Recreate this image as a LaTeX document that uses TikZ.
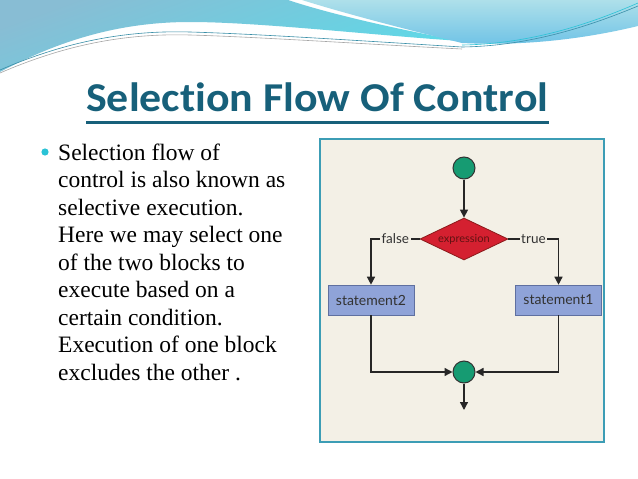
\documentclass[tikz,border=0pt]{standalone}
\usepackage{fontspec}
\setmainfont{Liberation Serif}
\newfontfamily\titlefont[FakeStretch=1.07,Ligatures=NoCommon]{Carlito}
\newfontfamily\diagfont{Lato}
\usetikzlibrary{arrows.meta,shapes.geometric}
\definecolor{titleteal}{HTML}{17607A}
\definecolor{bulletcyan}{HTML}{2BC3D6}
\definecolor{panelbg}{HTML}{F3F0E6}
\definecolor{panelborder}{HTML}{3C9DB5}
\definecolor{termgreen}{HTML}{169B72}
\definecolor{decred}{HTML}{D42030}
\definecolor{darkred}{HTML}{8B1A1A}
\definecolor{stmtblue}{HTML}{8FA3D8}
\definecolor{stmtborder}{HTML}{5F70A0}
\definecolor{bandtop}{HTML}{88BDD4}
\definecolor{bandcyan}{HTML}{5CDAE8}
\definecolor{righttop}{HTML}{AEE0EA}
\definecolor{rightbot}{HTML}{6EC2E6}
\definecolor{thinteal}{HTML}{3A8FA8}
\tikzset{
  flowline/.style={draw=black!85, line width=1.4pt},
  arr/.style={flowline, -{Triangle[length=8pt,width=8pt]}},
  term/.style={circle, draw=black!80, line width=1pt, fill=termgreen, minimum size=22pt, inner sep=0pt},
  decision/.style={diamond, aspect=2.1, draw=darkred, line width=0.8pt, fill=decred, minimum width=88pt, minimum height=42pt, inner sep=0pt, font=\diagfont\fontsize{11}{12}\selectfont, text=darkred!70!black},
  stmt/.style={rectangle, draw=stmtborder, line width=0.6pt, fill=stmtblue, minimum width=86pt, minimum height=30pt, inner sep=0pt, font=\diagfont\fontsize{14}{16}\selectfont, text=black!80},
  lbl/.style={fill=panelbg, inner sep=1.5pt, font=\diagfont\fontsize{13.5}{15}\selectfont, text=black!80},
  bodytext/.style={anchor=base west, inner sep=0pt, font=\fontsize{23.5}{26}\selectfont, text=black},
  thinline/.style={draw=thinteal, line width=0.6pt}
}
\begin{document}
\begin{tikzpicture}[x=1pt,y=-1pt]
\useasboundingbox (0,0) rectangle (638,479);
\fill[white] (0,0) rectangle (638,479);
% banner
\shade[top color=bandtop, bottom color=bandcyan, shading angle=20]
  (0,0) -- (288,0) .. controls (330,14) and (400,30) .. (462,41)
  .. controls (380,36) and (260,22) .. (190,22)
  .. controls (120,22) and (60,40) .. (0,72) -- cycle;
\shade[top color=righttop, bottom color=rightbot]
  (302,0) -- (638,0) -- (638,26) .. controls (580,40) and (520,46) .. (462,43)
  .. controls (400,28) and (340,12) .. (302,0) -- cycle;
\draw[thinline] (0,70) .. controls (60,44) and (120,30) .. (190,32) .. controls (260,34) and (380,42) .. (462,47);
\draw[thinline, draw=gray!70] (0,73) .. controls (60,47) and (120,33) .. (190,35) .. controls (260,37) and (380,45) .. (462,49);
\draw[thinline] (462,47) .. controls (530,46) and (590,26) .. (638,6);
\draw[thinline, draw=bulletcyan] (462,45) .. controls (530,44) and (590,24) .. (638,3);
% title
\node[anchor=base west, inner sep=0pt, text=titleteal, font=\titlefont\bfseries\fontsize{41}{44}\selectfont] (title) at (86,111) {Selection Flow Of Control};
\draw[titleteal, line width=3pt] ([yshift=-11pt]title.base west) -- ([yshift=-11pt]title.base east);
% bullet text
\fill[bulletcyan] (45,152) circle (3.6pt);
\foreach \t [count=\i] in {Selection flow of,control is also known as,selective execution.,Here we may select one,of the two blocks to,execute based on a,certain condition.,Execution of one block,excludes the other .}
  \node[bodytext] (line\i) at (58,{160+27.5*(\i-1)}) {\t};
% diagram panel
\draw[panelborder, fill=panelbg, line width=1.2pt] (320,139) rectangle (604,442);
\node[term] (start) at (464,168) {};
\node[decision] (dec) at (464,239) {expression};
\node[stmt] (s2) at (371,300) {statement2};
\node[stmt] (s1) at (558.5,300) {statement1};
\node[term] (join) at (464,372) {};
\coordinate (out) at (464,410);
\draw[arr] (start) -- (dec);
\draw[arr] (dec.west) -- node[lbl] {false} (s2.north |- dec.west) -- (s2.north);
\draw[arr] (dec.east) -- node[lbl] {true} (s1.north |- dec.east) -- (s1.north);
\draw[arr] (s2.south) -- (s2.south |- join) -- (join.west);
\draw[arr] (s1.south) -- (s1.south |- join) -- (join.east);
\draw[arr] (join) -- (out);
\end{tikzpicture}
\end{document}
